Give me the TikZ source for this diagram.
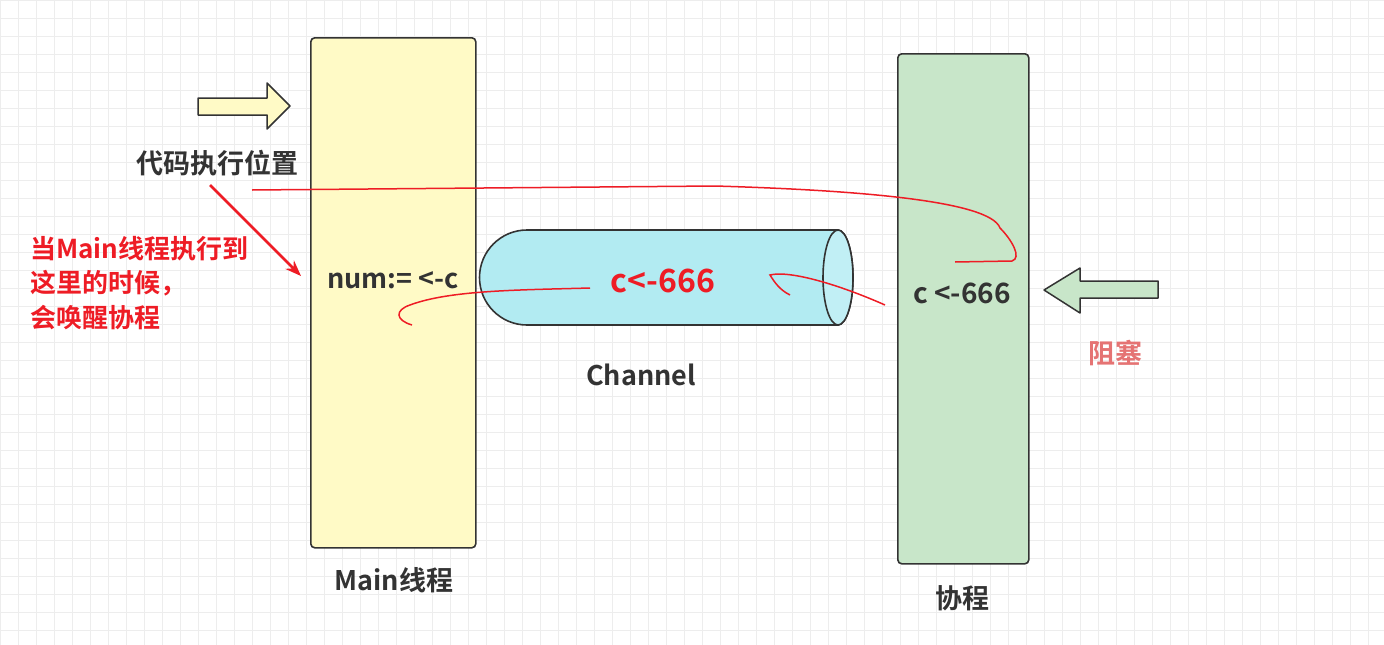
\documentclass[tikz,border=0pt]{standalone}
\usepackage{fontspec}
\setmainfont{Noto Sans CJK SC}[BoldFont={Noto Sans CJK SC Bold}]
\usetikzlibrary{arrows.meta}
\definecolor{ylw}{HTML}{FFFAC6}
\definecolor{grn}{HTML}{C8E6C9}
\definecolor{cyn}{HTML}{B2EBF2}
\definecolor{bord}{HTML}{333333}
\definecolor{rd}{HTML}{EE1C25}
\definecolor{pk}{HTML}{E57373}
\tikzset{box/.style={draw=bord,line width=1.6pt,rounded corners=4pt},
 lbl/.style={font=\bfseries\fontsize{27}{30}\selectfont,text=bord,inner sep=0},
 rline/.style={draw=rd,line width=1.5pt},
 blk/.style={draw=bord,line width=1.5pt,line join=round}}
\begin{document}
\begin{tikzpicture}[x=1pt,y=-1pt]
\useasboundingbox (0,0) rectangle (1384,645);
\fill[white] (0,0) rectangle (1384,645);
\draw[black!7,line width=0.6pt] (0,0) grid[step=18pt] (1384,645);
\node[box,fill=ylw,minimum width=165pt,minimum height=510pt,anchor=north west] (main) at (310,37) {};
\node[box,fill=grn,minimum width=131pt,minimum height=510pt,anchor=north west] (co) at (897,53) {};
% cylinder
\draw[draw=bord,line width=1.6pt,fill=cyn] (838,230) -- (527,230) arc[start angle=90,end angle=270,x radius=47.5pt,y radius=47.5pt] -- (838,325) arc[start angle=-90,end angle=90,x radius=15pt,y radius=47.5pt] -- cycle;
\draw[draw=bord,line width=1.6pt,fill=cyn!80!white] (838,277.5) ellipse[x radius=15pt,y radius=47.5pt];
\draw[blk,fill=ylw] (198,98) -- (267,98) -- (267,83) -- (290,106) -- (267,129) -- (267,115) -- (198,115) -- cycle;
\draw[blk,fill=grn] (1158,281) -- (1080,281) -- (1080,268) -- (1044,290) -- (1080,313) -- (1080,298) -- (1158,298) -- cycle;
\node[lbl] (t1) at (217,163) {代码执行位置};
\node[lbl] (t2) at (394,580) {Main线程};
\node[lbl] (t3) at (962,598) {协程};
\node[lbl] (t4) at (641,375) {Channel};
\node[lbl] (t5) at (393,280) {num:= <-c};
\node[lbl,text=rd,font=\bfseries\fontsize{32}{34}\selectfont] (t6) at (663,281) {c<-666};
\node[lbl,font=\bfseries\fontsize{28}{30}\selectfont] (t7) at (962,293) {c <-666};
\node[lbl,text=pk] (t8) at (1115,353) {阻塞};
\node[lbl,text=rd,align=left,anchor=north west,font=\bfseries\fontsize{26}{34.5}\selectfont] (t9) at (30,236) {当Main线程执行到\\这里的时候，\\会唤醒协程};
\coordinate (a1) at (210,185); \coordinate (a2) at (301,276);
\draw[rline,line width=2.5pt,-{Stealth[length=16pt,width=12pt]}] (a1) -- (a2);
\coordinate (c0) at (252,190); \coordinate (c1) at (715,186); \coordinate (c2) at (1000,228); \coordinate (c3) at (955,262);
\draw[rline] (c0) -- (c1) .. controls (850,190) and (990,200) .. (c2) .. controls (1012,240) and (1022,258) .. (1012,261) -- (c3);
\coordinate (d0) at (885,305); \coordinate (d1) at (770,275);
\draw[rline] (d0) .. controls (840,285) and (790,270) .. (d1) .. controls (775,283) and (780,290) .. (790,295);
\coordinate (e0) at (590,288); \coordinate (e1) at (410,305);
\draw[rline] (e0) .. controls (520,290) and (450,290) .. (e1) .. controls (395,310) and (395,320) .. (412,325);
\end{tikzpicture}
\end{document}
